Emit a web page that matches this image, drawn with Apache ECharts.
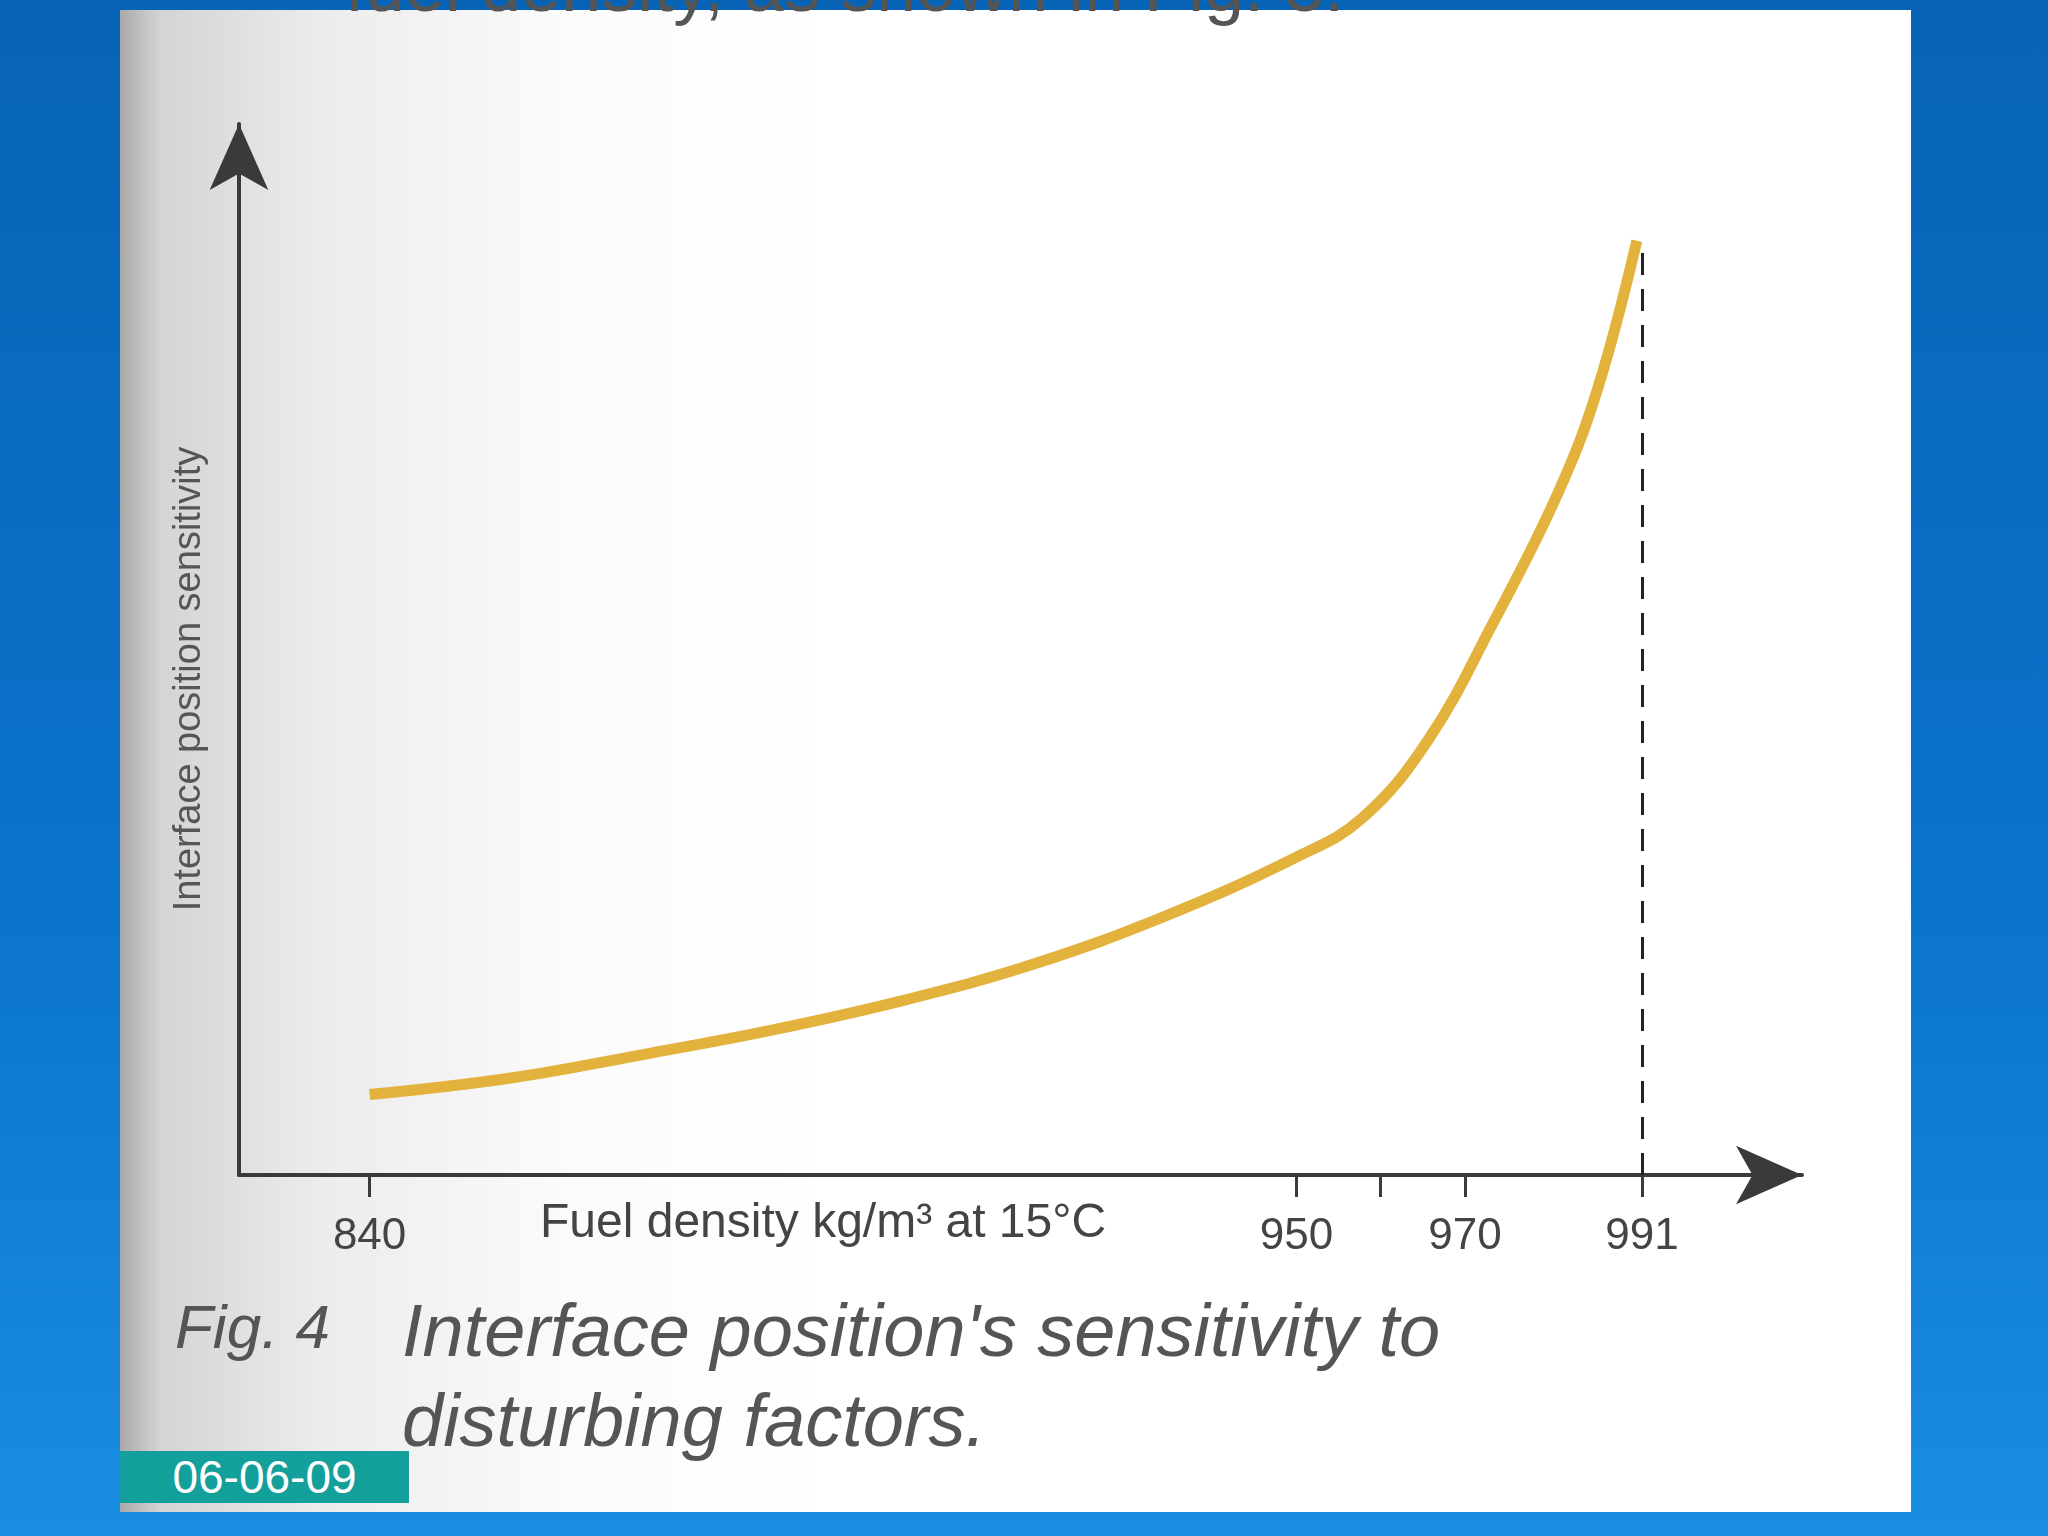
<!DOCTYPE html>
<html><head><meta charset="utf-8">
<script src="https://cdn.jsdelivr.net/npm/echarts@6/dist/echarts.min.js"></script>
<style>
html,body{margin:0;padding:0;width:2048px;height:1536px;overflow:hidden;
 background:linear-gradient(to bottom,#0763b5 0%,#0b74cc 60%,#1a8de3 100%);}
#paper{position:absolute;left:120px;top:10px;width:1791px;height:1502px;
 background:linear-gradient(to right,#a9a9a9 0px,#d4d4d4 40px,#ececec 200px,#fbfbfb 450px,#fff 700px);}
#chart{position:absolute;left:0;top:0;width:2048px;height:1536px;}
#date{position:absolute;left:120px;top:1451px;width:289px;height:52px;background:#14a09a;
 color:#fff;font:46px "Liberation Sans",Arial,sans-serif;text-align:center;line-height:52px;}
</style></head>
<body>
<div id="paper"></div>
<div id="chart"></div>
<div id="date">06-06-09</div>
<script>
// fuel density (kg/m3) vs relative sensitivity
var densities = [840, 857, 872.6, 888, 903.6, 919, 934.6, 950, 957.8, 965.6, 973.3, 981, 985.7, 990.4];
var sensitivity = [62, 75, 93, 112, 135, 163, 200, 245, 275, 335, 425, 525, 605, 720];
var tickValues = [840, 950, 960, 970, 991];
var labelValues = [840, 950, 970, 991];
var limitDensity = 991;

var chart = echarts.init(document.getElementById('chart'));
var pts = densities.map(function (d, i) { return [d, sensitivity[i]]; });
var ink = '#3a3a3a';
chart.setOption({
    animation: false,
    grid: { left: 239, right: 246, top: 124, bottom: 361 },
    xAxis: {
        type: 'value', min: 824.5, max: 1010,
        splitLine: { show: false },
        axisLine: { onZero: false, lineStyle: { color: ink, width: 4 }, symbol: ['none', 'arrow'], symbolSize: [44, 66] },
        axisTick: { customValues: tickValues, length: 22, inside: false, lineStyle: { color: ink, width: 3 } },
        axisLabel: { customValues: labelValues, color: '#444', fontSize: 44, margin: 40,
            fontFamily: 'Liberation Sans' }
    },
    yAxis: {
        type: 'value', min: 0, max: 810,
        splitLine: { show: false }, axisTick: { show: false }, axisLabel: { show: false },
        axisLine: { lineStyle: { color: ink, width: 4 }, symbol: ['none', 'arrow'], symbolSize: [44, 66] }
    },
    graphic: [
        { type: 'text', left: 540, top: 1200, style: { text: 'Fuel density kg/m³ at 15°C', fill: '#444', font: '48px "Liberation Sans"' } },
        { type: 'text', x: 190, y: 679, rotation: Math.PI / 2, style: { text: 'Interface position sensitivity', fill: '#555', font: '38px "Liberation Sans"', align: 'center', verticalAlign: 'middle' } },
        { type: 'text', left: 175, top: 1300, style: { text: 'Fig. 4', fill: '#555', font: 'italic 62px "Liberation Sans"' } },
        { type: 'text', left: 402, top: 1298, style: { text: "Interface position's sensitivity to", fill: '#555', font: 'italic 74px "Liberation Sans"' } },
        { type: 'text', left: 402, top: 1388, style: { text: 'disturbing factors.', fill: '#555', font: 'italic 74px "Liberation Sans"' } },
        { type: 'text', left: 345, top: -45, style: { text: 'fuel density, as shown in Fig. 3.', fill: '#555', font: '72px "Liberation Sans"' } }
    ],
    series: [{
        type: 'line', data: pts, smooth: 0.4, symbol: 'none',
        lineStyle: { color: '#e3b23c', width: 11 },
        markLine: {
            silent: true, symbol: 'none', label: { show: false },
            lineStyle: { color: '#222', width: 3, type: [22, 14] },
            data: [[{ coord: [limitDensity, 0] }, { coord: [limitDensity, 720] }]]
        }
    }]
});
</script>
</body></html>
